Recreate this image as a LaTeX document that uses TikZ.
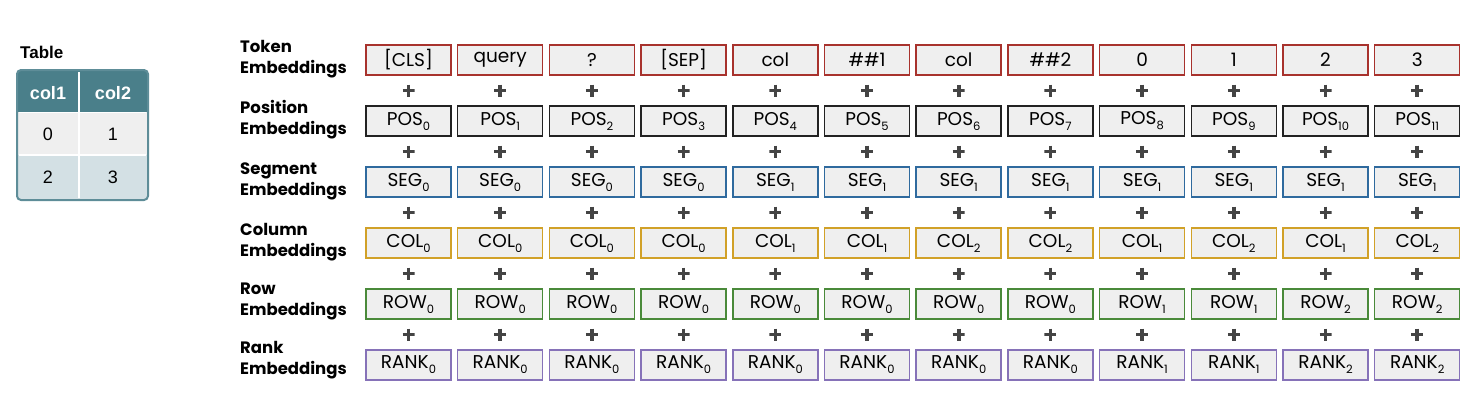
\documentclass[tikz,border=0pt]{standalone}
\usepackage{fontspec}
\setmainfont{Poppins}
\newfontfamily\tabfont{Liberation Sans}
\usepackage{xcolor}
\usepackage{tikz}
\usetikzlibrary{positioning,calc}

\definecolor{boxgray}{HTML}{EFEFEF}
\definecolor{tokred}{HTML}{A8322D}
\definecolor{posblack}{HTML}{222222}
\definecolor{segblue}{HTML}{2F6A9E}
\definecolor{colgold}{HTML}{D1A128}
\definecolor{rowgreen}{HTML}{4A8A3A}
\definecolor{rankpurple}{HTML}{8672B8}
\definecolor{plusgray}{HTML}{444444}
\definecolor{tabhead}{HTML}{4A7F8A}
\definecolor{tabedge}{HTML}{5E8D98}
\definecolor{tabrowa}{HTML}{EFEFEF}
\definecolor{tabrowb}{HTML}{D3E0E4}

% subscript as in the figure
\newcommand{\sbx}[1]{\raisebox{-5pt}{\fontsize{11.5}{11.5}\selectfont #1}}

\tikzset{
  emb/.style={draw, fill=boxgray, line width=1.5pt, minimum width=85pt, minimum height=30pt, inner sep=0pt, font=\fontsize{18.5}{20}\selectfont},
  tokbox/.style={emb, draw=tokred},
  posbox/.style={emb, draw=posblack},
  segbox/.style={emb, draw=segblue},
  colbox/.style={emb, draw=colgold},
  rowbox/.style={emb, draw=rowgreen},
  rankbox/.style={emb, draw=rankpurple},
  plus/.style={minimum size=12pt, inner sep=0pt, path picture={
      \draw[plusgray, line width=3.6pt] (path picture bounding box.north) -- (path picture bounding box.south);
      \draw[plusgray, line width=3.6pt] (path picture bounding box.west) -- (path picture bounding box.east);}},
  rowlabel/.style={anchor=west, align=left, inner sep=0pt, font=\bfseries\fontsize{16.5}{21}\selectfont},
  cell/.style={inner sep=0pt, font=\tabfont\fontsize{18}{18}\selectfont}
}

\begin{document}
\begin{tikzpicture}[x=1pt, y=-1pt]
  \useasboundingbox (0,0) rectangle (1480,400);

  % table
  \node[anchor=west, inner sep=0pt, font=\tabfont\bfseries\fontsize{17}{17}\selectfont] (tabtitle) at (20,52) {Table};
  \fill[tabrowb, rounded corners=4pt] (17,70) rectangle (148,200);
  \fill[tabhead, rounded corners=4pt] (17,70) rectangle (148,112);
  \fill[tabhead] (17,100) rectangle (148,112);
  \fill[tabrowa] (17,112) rectangle (148,155);
  \draw[white, line width=2pt] (79,72) -- (79,198);
  \draw[white, line width=2pt] (19,155) -- (146,155);
  \draw[white, line width=1pt] (19,112) -- (146,112);
  \draw[tabedge, line width=2pt, rounded corners=4pt] (17,70) rectangle (148,200);
  \node[cell, text=white, font=\tabfont\bfseries\fontsize{18}{18}\selectfont] (h1) at (48,93) {col1};
  \node[cell, text=white, font=\tabfont\bfseries\fontsize{18}{18}\selectfont] (h2) at (113,93) {col2};
  \node[cell] (c00) at (48,134) {0};
  \node[cell] (c01) at (113,134) {1};
  \node[cell] (c10) at (48,177) {2};
  \node[cell] (c11) at (113,177) {3};

  % row labels
  \node[rowlabel] (ltok) at (240,59) {Token\\Embeddings};
  \node[rowlabel] (lpos) at (240,120) {Position\\Embeddings};
  \node[rowlabel] (lseg) at (240,181) {Segment\\Embeddings};
  \node[rowlabel] (lcol) at (240,242) {Column\\Embeddings};
  \node[rowlabel] (lrow) at (240,301) {Row\\Embeddings};
  \node[rowlabel] (lrank) at (240,360) {Rank\\Embeddings};

  % embedding boxes
  \foreach \i/\tok/\seg/\col/\row in {0/{[CLS]}/0/0/0, 1/query/0/0/0, 2/?/0/0/0, 3/{[SEP]}/0/0/0,
      4/col/1/1/0, 5/{\#\#1}/1/1/0, 6/col/1/2/0, 7/{\#\#2}/1/2/0,
      8/0/1/1/1, 9/1/1/2/1, 10/2/1/1/2, 11/3/1/2/2} {
    \pgfmathsetmacro{\xx}{408.5+91.7*\i}
    \node[tokbox] (tok\i) at (\xx,60) {\tok};
    \node[posbox] (pos\i) at (\xx,121) {POS\sbx{\i}};
    \node[segbox] (seg\i) at (\xx,182) {SEG\sbx{\seg}};
    \node[colbox] (col\i) at (\xx,243) {COL\sbx{\col}};
    \node[rowbox] (row\i) at (\xx,304) {ROW\sbx{\row}};
    \node[rankbox] (rank\i) at (\xx,365) {RANK\sbx{\row}};
    \node[plus] (pa\i) at ($(tok\i)!0.5!(pos\i)$) {};
    \node[plus] (pb\i) at ($(pos\i)!0.5!(seg\i)$) {};
    \node[plus] (pc\i) at ($(seg\i)!0.5!(col\i)$) {};
    \node[plus] (pd\i) at ($(col\i)!0.5!(row\i)$) {};
    \node[plus] (pe\i) at ($(row\i)!0.5!(rank\i)$) {};
  }
\end{tikzpicture}
\end{document}
